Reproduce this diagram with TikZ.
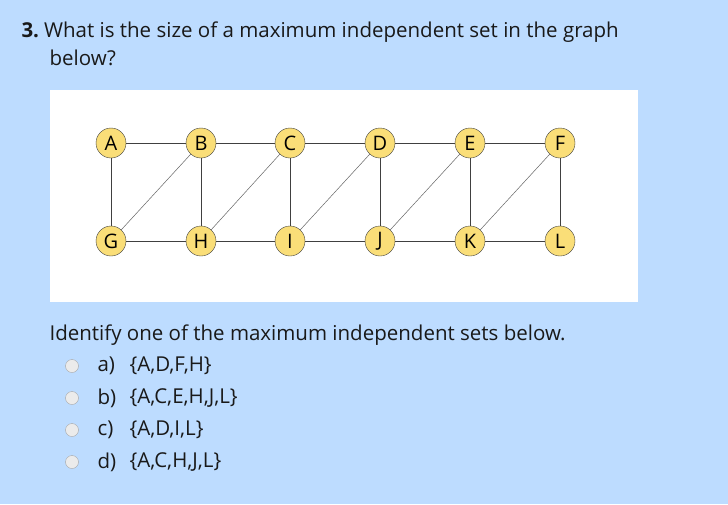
\documentclass[tikz,border=0pt]{standalone}
\usepackage{fontspec}
\setmainfont{Open Sans}
\begin{document}
\begin{tikzpicture}[x=1pt,y=-1pt,
  vert/.style={circle,draw=black!75,fill={rgb,255:red,250;green,222;blue,120},minimum size=30pt,inner sep=0pt,font=\fontsize{20}{20}\selectfont},
  edge/.style={draw=black!75,line width=1pt},
  diag/.style={draw=black!60,line width=0.5pt},
  radio/.style={circle,draw=black!35,fill=black!8,minimum size=13pt,inner sep=0pt},
  txt/.style={anchor=west,font=\fontsize{20.5}{23}\selectfont,text=black!90}]
\fill[fill={rgb,255:red,189;green,220;blue,255}] (0,0) rectangle (728,504);
\useasboundingbox (0,0) rectangle (728,504);
\fill[white] (50,90) rectangle (638,302);
\node[txt] (q) at (18,32) {\textbf{3.}\hspace{5pt}What is the size of a maximum independent set in the graph};
\node[txt] (q2) at (46,58) {below?};
\foreach \n/\x in {A/111,B/201,C/290,D/380,E/470,F/560}{\node[vert] (\n) at (\x,143) {\n};}
\foreach \n/\x in {G/111,H/201,I/290,J/380,K/470,L/560}{\node[vert] (\n) at (\x,241) {\n};}
\foreach \a/\b in {A/B,B/C,C/D,D/E,E/F,G/H,H/I,I/J,J/K,K/L,A/G,B/H,C/I,D/J,E/K,F/L}{\draw[edge] (\a)--(\b);}
\foreach \a/\b in {B/G,C/H,D/I,E/J,F/K}{\draw[diag] (\a)--(\b);}
\node[txt] (p) at (46,335) {Identify one of the maximum independent sets below.};
\foreach \l/\t/\y in {a/{\{A,D,F,H\}}/366,b/{\{A,C,E,H,J,L\}}/398,c/{\{A,D,I,L\}}/430,d/{\{A,C,H,J,L\}}/462}{
  \node[radio] (r\l) at (72,\y) {};
  \node[txt] (o\l) at (94,\y) {\l)};
  \node[txt] (s\l) at (126,\y) {\t};
}
\end{tikzpicture}
\end{document}
